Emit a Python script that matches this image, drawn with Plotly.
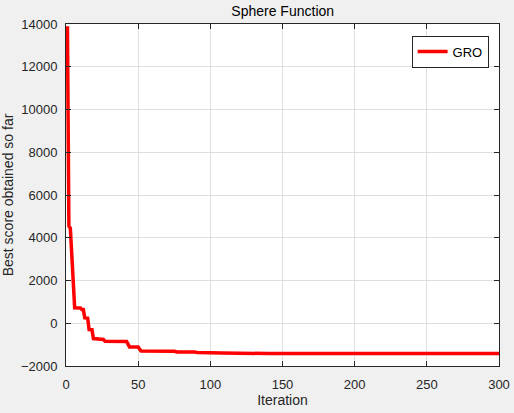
import plotly.graph_objects as go

# convergence curve (iteration -> best score)
iteration = [1, 2, 3, 4, 5, 6, 10, 11, 12, 13, 15, 16, 18, 19, 26, 27, 42, 44,
             50, 52, 75, 77, 89, 91, 108, 140, 300]
best_score = [13900, 4540, 4450, 3000, 1600, 720, 717, 640, 640, 250, 240, -296,
              -300, -717, -760, -842, -850, -1108, -1115, -1295, -1310, -1340,
              -1350, -1370, -1395, -1415, -1420]

x_ticks = [0, 50, 100, 150, 200, 250, 300]
y_ticks = list(range(-2000, 14001, 2000))

font = "Liberation Sans, Arial, sans-serif"

fig = go.Figure()
fig.add_trace(go.Scatter(x=iteration, y=best_score, mode="lines", name="GRO",
                         line=dict(color="#ff0000", width=3.5)))

axis_style = dict(showline=True, linecolor="#262626", linewidth=1, mirror="ticks",
                  ticks="inside", ticklen=5, tickcolor="#262626", automargin=False,
                  showgrid=True, gridcolor="#dfdfdf", gridwidth=1, zeroline=False,
                  tickformat="d",
                  tickfont=dict(family=font, size=13, color="#262626"))

fig.update_xaxes(range=[0, 300], tickvals=x_ticks, ticklabelstandoff=6,
                 title=dict(text="Iteration", font=dict(family=font, size=14, color="#262626"),
                            standoff=4), **axis_style)
fig.update_yaxes(range=[-2000, 14000], tickvals=y_ticks, ticklabelstandoff=5,
                 title=dict(text="Best score obtained so far",
                            font=dict(family=font, size=14, color="#262626"), standoff=10),
                 **axis_style)

fig.update_layout(
    width=514, height=413,
    margin=dict(l=66, r=15, t=24, b=47),
    paper_bgcolor="#f0f0f0", plot_bgcolor="white",
    title=dict(text="Sphere Function", x=0.55, xanchor="center", y=0.972, yanchor="middle",
               font=dict(family=font, size=14, color="#000000")),
    legend=dict(x=0.976, y=0.966, xanchor="right", yanchor="top",
                bgcolor="white", bordercolor="#262626", borderwidth=1,
                font=dict(family=font, size=13, color="#000000"), itemwidth=30),
    showlegend=True,
)

# drop the default page margin so the figure sits at the window's corner
fig.write_html("out.html", config={"displayModeBar": False},
               post_script="document.body.style.margin='0';"
               "document.body.style.background='#f0f0f0';")
